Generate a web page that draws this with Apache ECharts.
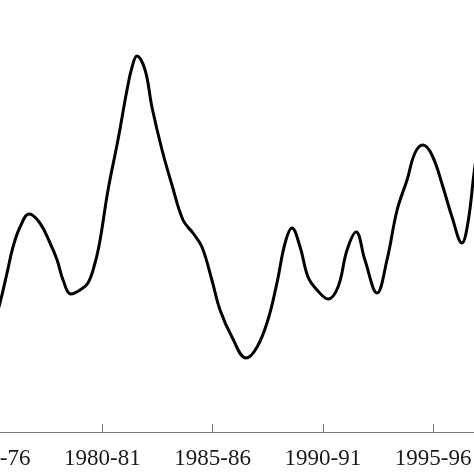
<!DOCTYPE html>
<html>
<head>
<meta charset="utf-8">
<script src="https://cdn.jsdelivr.net/npm/echarts@6/dist/echarts.min.js"></script>
<style>
html,body{margin:0;padding:0;background:#fff;}
#c{width:474px;height:474px;}
</style>
</head>
<body>
<div id="c"></div>
<script>
// Year (start of fiscal year, fractional) and index level
const years = [1975.13,1975.36,1975.68,1975.95,1976.27,1976.68,1977.17,1977.63,1977.95,1978.22,1978.58,1978.99,1979.35,1979.67,1979.90,1980.26,1980.71,1981.12,1981.35,1981.57,1981.94,1982.25,1982.71,1983.16,1983.66,1984.11,1984.52,1984.97,1985.34,1985.88,1986.52,1987.02,1987.51,1987.92,1988.29,1988.60,1988.97,1989.33,1989.74,1990.24,1990.69,1991.10,1991.51,1991.91,1992.46,1992.91,1993.37,1993.82,1994.18,1994.54,1994.95,1995.45,1995.86,1996.31,1996.58,1996.86,1997.13];
const values = [112,129,159,185,205,218,209,189,172,152,138,142,149,169,192,242,292,342,365,376,362,325,282,247,212,199,185,152,122,95,74,85,112,149,189,204,185,155,142,133,145,182,200,172,139,172,222,252,279,287,277,245,215,189,209,259,302];
const tickYears = [1975,1980,1985,1990,1995,2000];
const tickLabels = ['1975-76','1980-81','1985-86','1990-91','1995-96','2000-01'];

const data = years.map((y,i)=>[y, values[i]]);
const chart = echarts.init(document.getElementById('c'), null, {renderer:'canvas'});
chart.setOption({
  animation:false,
  backgroundColor:'#fff',
  grid:{left:-7.95, top:0, width:551.25, height:432, containLabel:false, outerBoundsMode:'none'},
  xAxis:{
    type:'value', min:1975, max:2000, interval:5,
    axisLine:{show:true, lineStyle:{color:'#777', width:1}},
    axisTick:{show:true, inside:true, length:8, lineStyle:{color:'#777', width:1}},
    splitLine:{show:false},
    axisLabel:{
      color:'#1a1a1a', fontFamily:'Liberation Serif', fontSize:23, margin:15,
      showMinLabel:true, showMaxLabel:true, hideOverlap:false,
      formatter:function(v){const i=tickYears.indexOf(Math.round(v)); return i>=0?tickLabels[i]:'';}
    }
  },
  yAxis:{type:'value', min:0, max:432, show:false},
  series:[{
    type:'line', data:data, smooth:0.4, showSymbol:false, clip:true,
    lineStyle:{color:'#000', width:3}
  }]
});
</script>
</body>
</html>
